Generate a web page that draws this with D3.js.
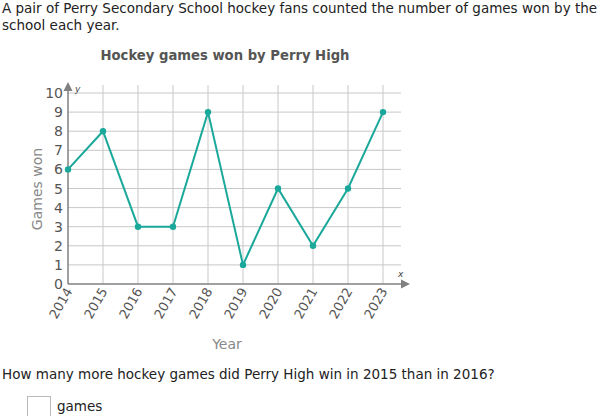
<!DOCTYPE html>
<html><head><meta charset="utf-8">
<script src="https://cdn.jsdelivr.net/npm/d3@7"></script>
<style>body{margin:0;background:#fff;font-family:"DejaVu Sans",Verdana,sans-serif;}</style>
</head><body><svg id="chart"></svg>
<script>
var years = [2014, 2015, 2016, 2017, 2018, 2019, 2020, 2021, 2022, 2023];
var wins = [6, 8, 3, 3, 9, 1, 5, 2, 5, 9];
var yTicks = [0, 1, 2, 3, 4, 5, 6, 7, 8, 9, 10];

var svg = d3.select("#chart").attr("width", 600).attr("height", 416);
var teal = "#1aa89a", grid = "#c8c8c8", axisCol = "#808080";

svg.append("text").attr("x", 2).attr("y", 13).attr("font-size", 13.5).attr("fill", "#222")
  .text("A pair of Perry Secondary School hockey fans counted the number of games won by the");
svg.append("text").attr("x", 2).attr("y", 30).attr("font-size", 13.5).attr("fill", "#222")
  .text("school each year.");
svg.append("text").attr("x", 225).attr("y", 60).attr("text-anchor", "middle").attr("font-size", 13.2)
  .attr("font-weight", "bold").attr("fill", "#555").text("Hockey games won by Perry High");

var x = d3.scalePoint().domain(years).range([68, 383]);
var y = d3.scaleLinear().domain([0, 10]).range([284, 93]);

// grid
svg.append("g").selectAll("line").data(yTicks.slice(1)).join("line")
  .attr("x1", 68).attr("x2", 401).attr("y1", d => y(d)).attr("y2", d => y(d))
  .attr("stroke", grid);
svg.append("g").selectAll("line").data(years.slice(1)).join("line")
  .attr("x1", d => x(d)).attr("x2", d => x(d)).attr("y1", 85).attr("y2", 284)
  .attr("stroke", grid);

// axes with arrows
svg.append("line").attr("x1", 68).attr("x2", 402).attr("y1", 284).attr("y2", 284).attr("stroke", axisCol).attr("stroke-width", 1.5);
svg.append("path").attr("d", "M410,284 L401,279.5 L401,288.5Z").attr("fill", axisCol);
svg.append("line").attr("x1", 68).attr("x2", 68).attr("y1", 284).attr("y2", 90).attr("stroke", axisCol).attr("stroke-width", 1.5);
svg.append("path").attr("d", "M68,82 L63.5,91 L72.5,91Z").attr("fill", axisCol);
svg.append("text").attr("x", 75).attr("y", 92).attr("font-size", 9).attr("font-style", "italic").attr("fill", "#444").text("y");
svg.append("text").attr("x", 398).attr("y", 277).attr("font-size", 9).attr("font-style", "italic").attr("fill", "#444").text("x");

svg.append("g").selectAll("text").data(yTicks).join("text")
  .attr("x", 63).attr("y", d => y(d) + 5).attr("text-anchor", "end").attr("font-size", 14)
  .attr("fill", "#555").text(d => d);
svg.append("g").selectAll("text").data(years).join("text")
  .attr("transform", d => "translate(" + (x(d) + 5) + ",291) rotate(-60)")
  .attr("text-anchor", "end").attr("font-size", 13).attr("fill", "#555").text(d => d);

svg.append("text").attr("x", 227).attr("y", 349).attr("text-anchor", "middle").attr("font-size", 14).attr("fill", "#888").text("Year");
svg.append("text").attr("transform", "translate(42,189) rotate(-90)").attr("text-anchor", "middle")
  .attr("font-size", 14).attr("fill", "#888").text("Games won");

var line = d3.line().x((d, i) => x(years[i])).y(d => y(d));
svg.append("path").datum(wins).attr("d", line).attr("fill", "none").attr("stroke", teal).attr("stroke-width", 2);
svg.append("g").selectAll("circle").data(wins).join("circle")
  .attr("cx", (d, i) => x(years[i])).attr("cy", d => y(d)).attr("r", 3.2).attr("fill", teal);

svg.append("text").attr("x", 2).attr("y", 379).attr("font-size", 13.5).attr("fill", "#222")
  .text("How many more hockey games did Perry High win in 2015 than in 2016?");
svg.append("rect").attr("x", 27.5).attr("y", 396.5).attr("width", 23).attr("height", 20).attr("fill", "#fff").attr("stroke", "#bbb");
svg.append("text").attr("x", 57).attr("y", 411).attr("font-size", 13.5).attr("fill", "#222").text("games");
</script></body></html>
